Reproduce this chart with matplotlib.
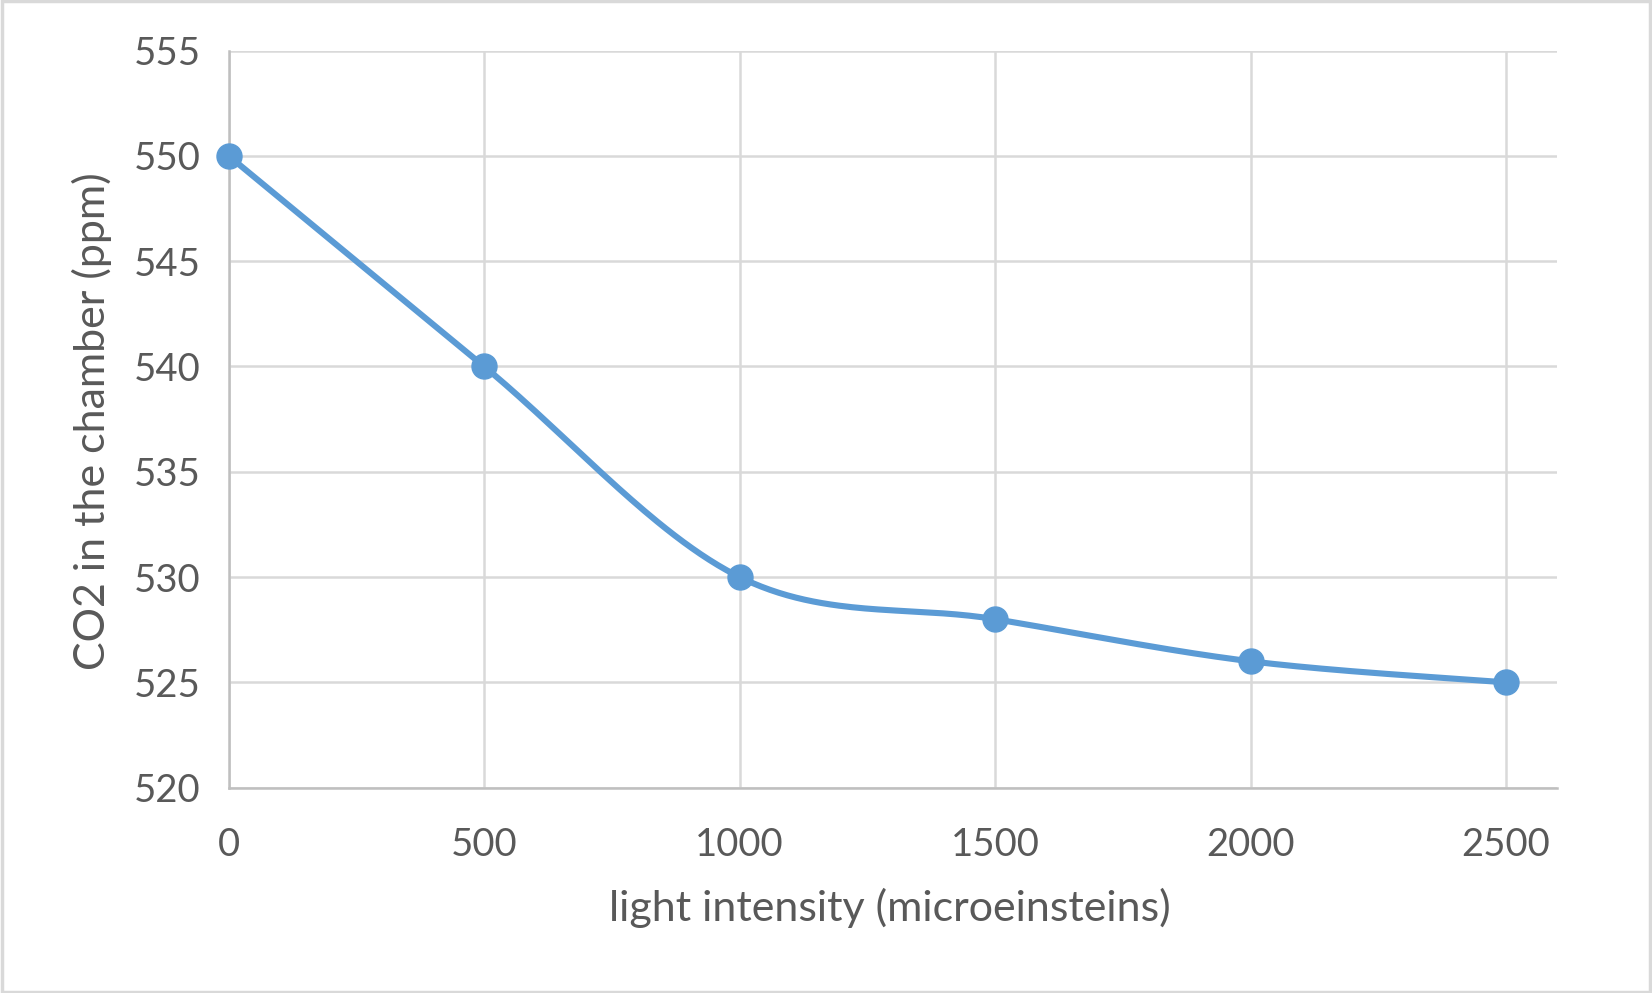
import numpy as np
import matplotlib.pyplot as plt
from matplotlib.patches import Rectangle

# Data
light = [0, 500, 1000, 1500, 2000, 2500]
co2 = [550, 540, 530, 528, 526, 525]
x_ticks = [0, 500, 1000, 1500, 2000, 2500]
y_ticks = [520, 525, 530, 535, 540, 545, 550, 555]

line_color = '#5B9BD5'
text_color = '#595959'
grid_color = '#D9D9D9'

plt.rcParams['font.family'] = ['Lato', 'DejaVu Sans']

fig = plt.figure(figsize=(16.52, 9.93), dpi=100)
ax = fig.add_axes([0.1384, 0.2068, 0.9426 - 0.1384, 0.9491 - 0.2068])
ax.set_xlim(0, 2600)
ax.set_ylim(520, 555)

# Excel-style smoothed line: cubic Bezier through points, computed in screen space
pts = ax.transData.transform(np.column_stack([light, co2]))
curve = []
n = len(pts)
for i in range(n - 1):
    p0 = pts[max(i - 1, 0)]
    p1 = pts[i]
    p2 = pts[i + 1]
    p3 = pts[min(i + 2, n - 1)]
    c1 = p1 + (p2 - p0) / 6.0
    c2 = p2 - (p3 - p1) / 6.0
    t = np.linspace(0, 1, 60)[:, None]
    seg = ((1 - t) ** 3) * p1 + 3 * ((1 - t) ** 2) * t * c1 + 3 * (1 - t) * t ** 2 * c2 + t ** 3 * p2
    curve.append(seg)
curve = ax.transData.inverted().transform(np.vstack(curve))

ax.plot(curve[:, 0], curve[:, 1], color=line_color, lw=4.4, solid_capstyle='round', zorder=3, clip_on=False)
ax.plot(light, co2, 'o', color=line_color, markersize=18, zorder=4, clip_on=False)

ax.set_xticks(x_ticks)
ax.set_yticks(y_ticks)
ax.grid(True, color=grid_color, lw=1.8)
ax.set_axisbelow(True)
for s in ['top', 'right']:
    ax.spines[s].set_visible(False)
for s in ['left', 'bottom']:
    ax.spines[s].set_color('#BFBFBF')
    ax.spines[s].set_linewidth(1.8)
ax.tick_params(length=0, labelsize=27.5, labelcolor=text_color)
ax.tick_params(axis='y', pad=20)
ax.tick_params(axis='x', pad=28)

fig.text(0.5385, 0.086, 'light intensity (microeinsteins)', ha='center', va='center',
         fontsize=31, color=text_color)
fig.text(0.0555, 0.576, 'CO2 in the chamber (ppm)', ha='center', va='center',
         rotation=90, fontsize=31, color=text_color)

fig.patches.append(Rectangle((0.001, 0.001), 0.998, 0.998, transform=fig.transFigure,
                             fill=False, edgecolor=grid_color, lw=2.5))

fig.savefig('out.png', dpi=100)
